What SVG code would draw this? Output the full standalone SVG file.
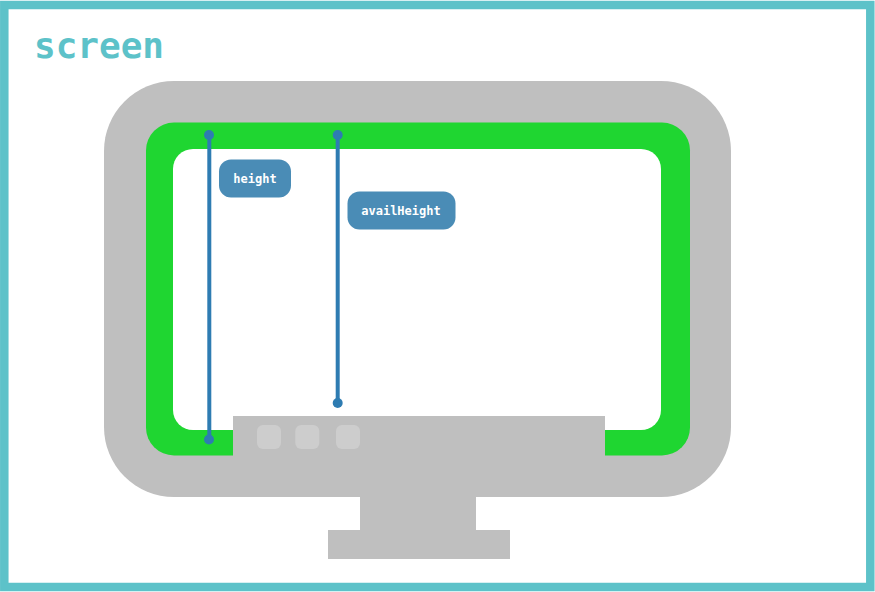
<svg xmlns="http://www.w3.org/2000/svg" width="875" height="592" viewBox="0 0 875 592">
<style>
.mon{fill:#bfbfbf}
.key{fill:#cdcdcd}
.lab{fill:#4a8cb6}
.lt{fill:#fff;font:bold 12px "DejaVu Sans Mono",monospace;text-anchor:middle}
.ln{stroke:#2e7cb2;stroke-width:4;fill:none}
.dot{fill:#2e7cb2}
</style>
<rect width="875" height="592" fill="#fff"/>
<g id="screen">
<rect x="4.300" y="5" width="866" height="582" fill="#fff" stroke="#5dc2c9" stroke-width="8.500"/>
<text x="34" y="58.300" fill="#5dc2c9" style="font:bold 36px 'DejaVu Sans Mono',monospace">screen</text>
</g>
<g id="monitor">
<rect class="mon" x="360" y="490" width="116" height="42"/>
<rect class="mon" x="328" y="530" width="182" height="29"/>
<rect class="mon" x="104" y="81" width="627" height="416" rx="70" ry="70"/>
<rect x="146" y="122.500" width="544" height="333" rx="28" ry="28" fill="#1fd631"/>
<rect x="173" y="149" width="488" height="281" rx="20" ry="20" fill="#fff"/>
<rect class="mon" x="233" y="416" width="372" height="60"/>
<rect class="key" x="257" y="425" width="24" height="24" rx="6"/>
<rect class="key" x="295.300" y="425" width="24" height="24" rx="6"/>
<rect class="key" x="336" y="425" width="24" height="24" rx="6"/>
</g>
<g id="connectors">
<line class="ln" x1="209.300" y1="135" x2="209.300" y2="439"/>
<circle class="dot" cx="209" cy="135" r="5"/>
<circle class="dot" cx="209" cy="439.500" r="5"/>
<line class="ln" x1="337.700" y1="135" x2="337.700" y2="403"/>
<circle class="dot" cx="337.700" cy="135" r="5"/>
<circle class="dot" cx="337.700" cy="403" r="5"/>
</g>
<g id="label-height">
<rect class="lab" x="219" y="159.500" width="72" height="38" rx="12"/>
<text class="lt" x="255" y="183">height</text>
</g>
<g id="label-availHeight">
<rect class="lab" x="347.500" y="191.500" width="108" height="38" rx="12"/>
<text class="lt" x="401" y="215">availHeight</text>
</g>
</svg>
